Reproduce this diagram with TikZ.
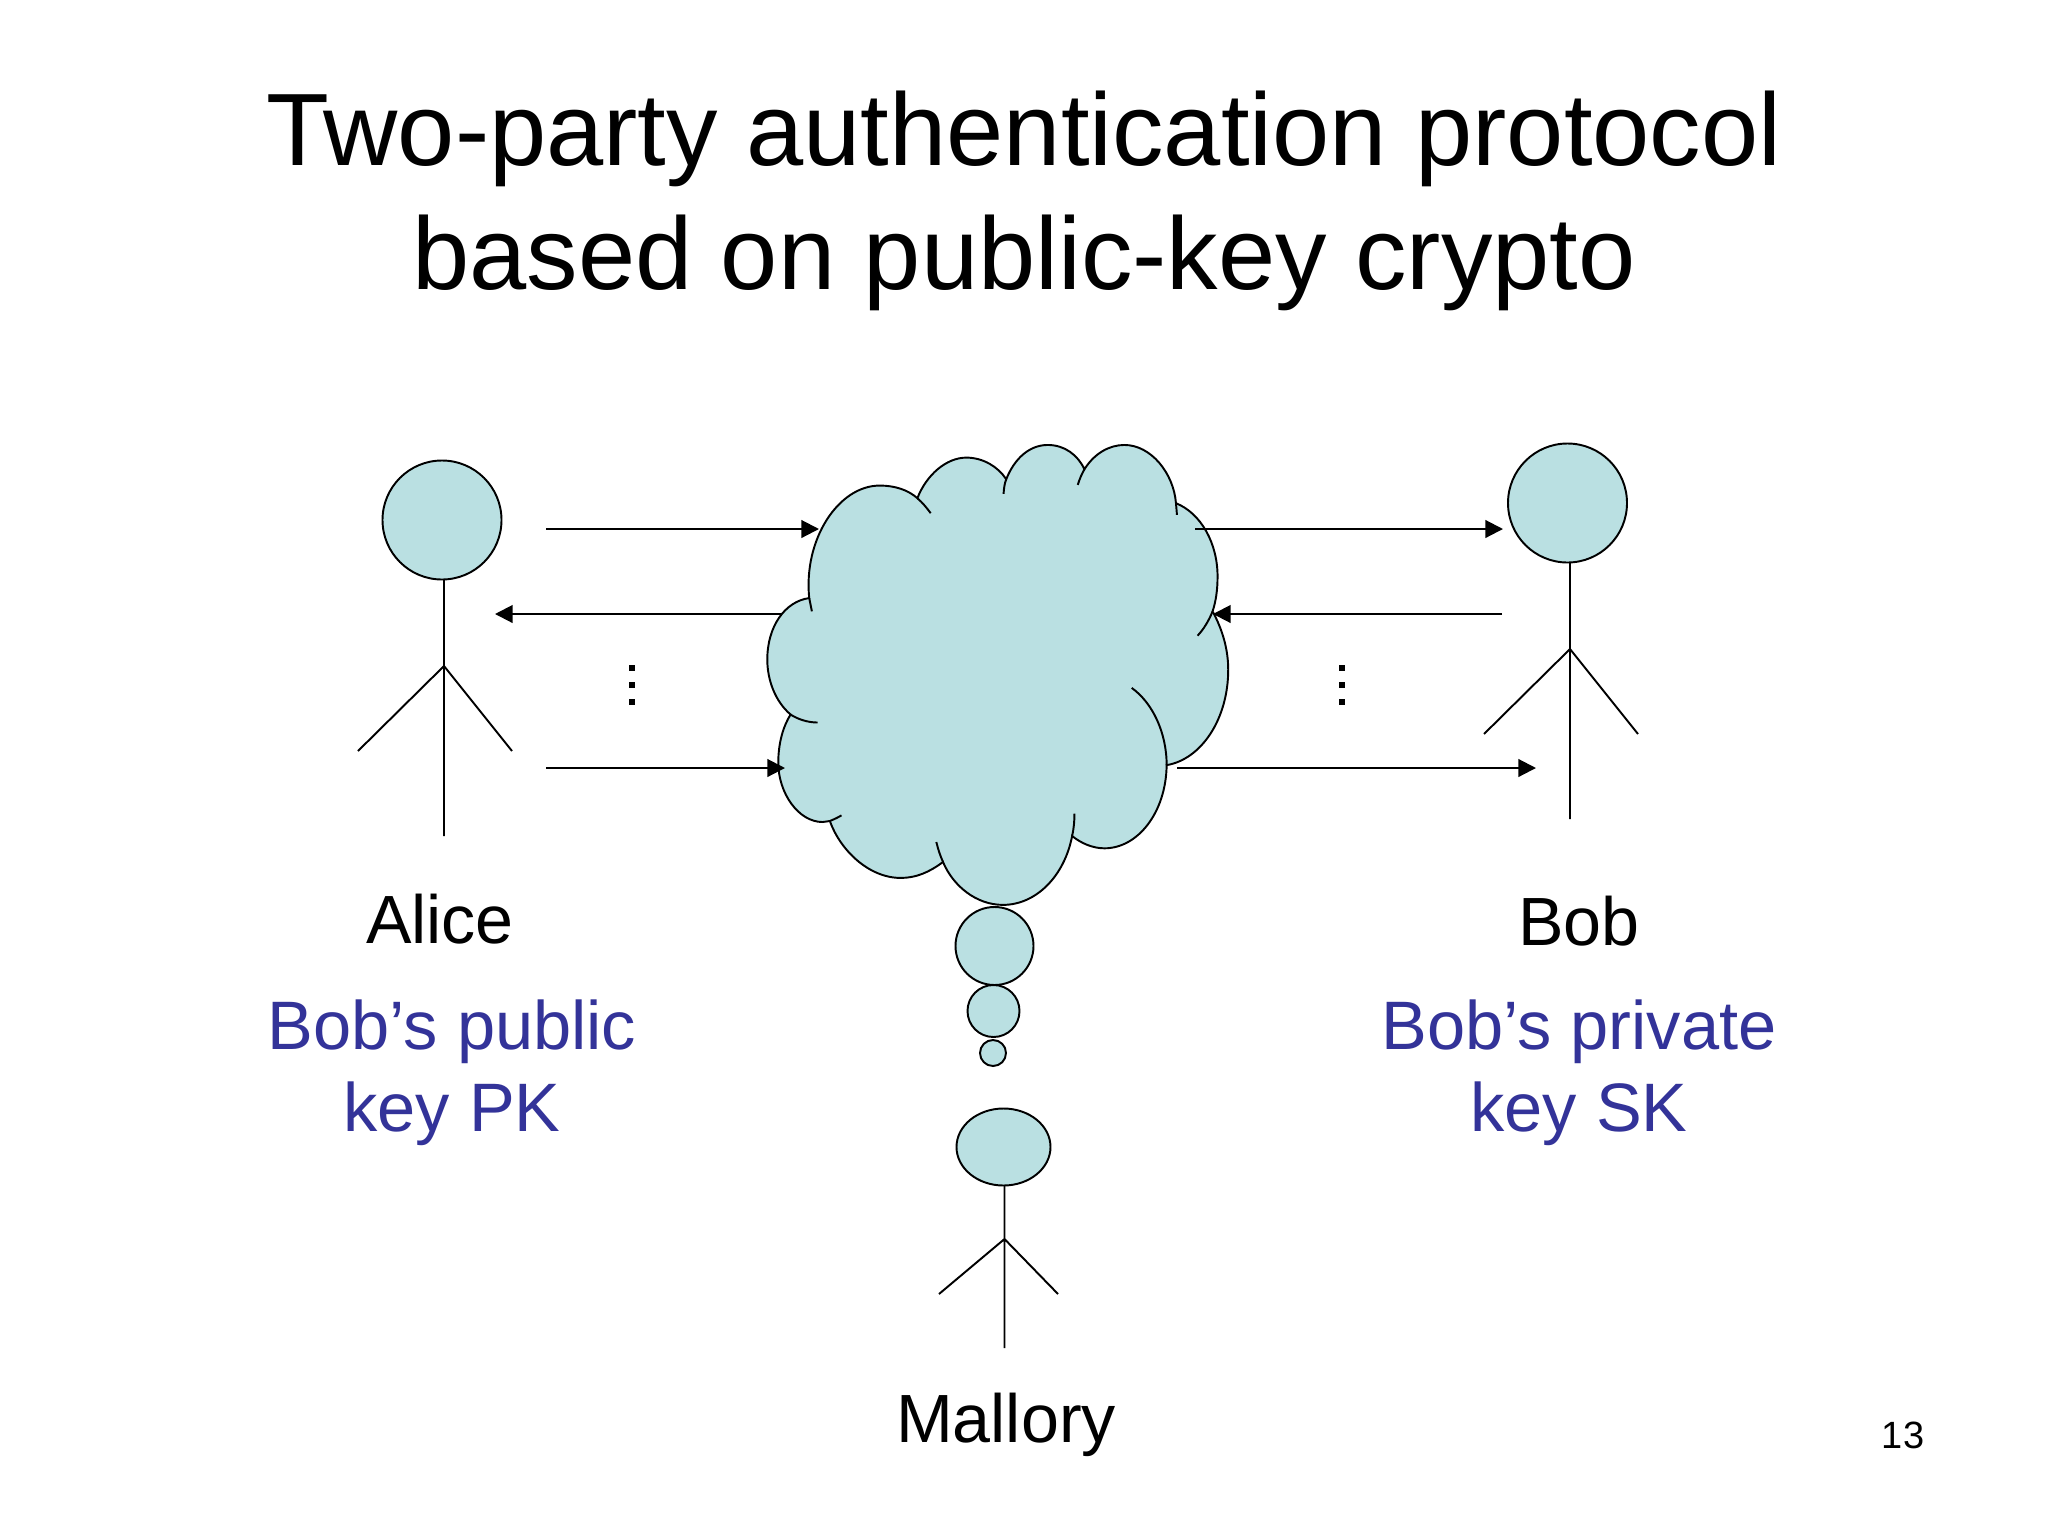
\documentclass[tikz,border=0pt]{standalone}
\usepackage{fontspec}
\setmainfont{Liberation Sans}
\usetikzlibrary{arrows.meta}
\definecolor{cloudfill}{HTML}{BAE0E2}
\definecolor{keyblue}{HTML}{333399}
\tikzset{
  px/.style={x=0.01cm,y=-0.01cm},
  ink/.style={draw=black,line width=0.55pt},
  person/.style={ink,fill=cloudfill},
  limb/.style={ink},
  msg/.style={draw=black,line width=0.6pt,-{Triangle[length=5pt,width=5pt]}},
  titletext/.style={align=center,inner sep=0pt,font=\fontsize{29.25}{35.1}\selectfont},
  nametext/.style={inner sep=0pt,anchor=base,font=\fontsize{19.4}{23}\selectfont},
  keytext/.style={align=center,inner sep=0pt,text=keyblue,font=\fontsize{19.5}{23.4}\selectfont},
  dotmark/.style={fill=black,inner sep=0pt,minimum size=1.5pt,rectangle},
}
\begin{document}
\begin{tikzpicture}[px]
\useasboundingbox[fill=white] (0,0) rectangle (2048,1536);
\node[titletext] (title) at (1024,201) {Two-party authentication protocol\\based on public-key crypto};

% free ends of the messages
\coordinate (la1) at (546,529); \coordinate (lb1) at (819,529);
\coordinate (la2) at (800,614); \coordinate (lb2) at (495,614);
\coordinate (la3) at (546,768); \coordinate (lb3) at (785,768);
\coordinate (ra1) at (1195,529); \coordinate (rb1) at (1503,529);
\coordinate (ra2) at (1502,614); \coordinate (rb2) at (1213,614);
\coordinate (ra3) at (1177,768); \coordinate (rb3) at (1536,768);

% message leaving the cloud towards Alice runs behind it
\draw[msg] (la2) -- (lb2);

% cloud
\begin{scope}[shift={(740,420)},x=0.003333cm,y=-0.003333cm]
\path[person] (208,535)
 .. controls (190,360) and (295,197) .. (420,197)
 .. controls (465,197) and (505,210) .. (533,235)
 .. controls (560,165) and (620,113) .. (680,113)
 .. controls (730,113) and (775,140) .. (800,178)
 .. controls (825,115) and (870,75) .. (925,75)
 .. controls (975,75) and (1015,105) .. (1035,148)
 .. controls (1065,100) and (1110,75) .. (1155,75)
 .. controls (1235,75) and (1303,160) .. (1310,250)
 .. controls (1385,280) and (1435,370) .. (1435,470)
 .. controls (1435,510) and (1430,545) .. (1420,575)
 .. controls (1450,630) and (1467,690) .. (1467,750)
 .. controls (1467,900) and (1385,1020) .. (1282,1037)
 .. controls (1280,1180) and (1195,1287) .. (1095,1287)
 .. controls (1060,1287) and (1025,1272) .. (998,1250)
 .. controls (975,1370) and (890,1457) .. (790,1457)
 .. controls (710,1457) and (640,1400) .. (610,1328)
 .. controls (570,1358) and (530,1376) .. (483,1376)
 .. controls (385,1376) and (300,1290) .. (270,1205)
 -- (248,1208)
 .. controls (175,1208) and (115,1120) .. (115,1030)
 .. controls (115,970) and (130,920) .. (152,885)
 .. controls (105,845) and (82,780) .. (82,720)
 .. controls (82,620) and (135,545) .. (208,535) -- cycle;
\draw[ink] (216,575) -- (208,535);
\draw[ink] (533,235) .. controls (548,248) and (562,265) .. (573,280);
\draw[ink] (792,222) .. controls (793,205) and (795,190) .. (800,178);
\draw[ink] (1015,195) .. controls (1020,178) and (1027,162) .. (1035,148);
\draw[ink] (1310,250) -- (1313,285);
\draw[ink] (1420,575) .. controls (1408,605) and (1392,630) .. (1375,648);
\draw[ink] (1177,805) .. controls (1240,850) and (1282,940) .. (1282,1037);
\draw[ink] (1005,1183) .. controls (1005,1205) and (1003,1228) .. (998,1250);
\draw[ink] (590,1268) .. controls (595,1290) and (602,1310) .. (610,1328);
\draw[ink] (305,1188) .. controls (293,1195) and (282,1200) .. (270,1205);
\draw[ink] (152,885) .. controls (175,900) and (205,909) .. (233,909);
\end{scope}

% other messages
\draw[msg] (la1) -- (lb1);
\draw[msg] (la3) -- (lb3);
\draw[msg] (ra1) -- (rb1);
\draw[msg] (ra2) -- (rb2);
\draw[msg] (ra3) -- (rb3);

\foreach \n/\y in {a/668,b/685,c/702}{
  \node[dotmark] (ld\n) at (632,\y) {};
  \node[dotmark] (rd\n) at (1342,\y) {};
}

% Alice
\draw[person] (442,520) circle (59.5);
\coordinate (aneck) at (444,580); \coordinate (ahip) at (444,666); \coordinate (afoot) at (444,836);
\coordinate (al) at (358,751); \coordinate (ar) at (512,751);
\draw[limb] (aneck) -- (afoot) (al) -- (ahip) -- (ar);
% Bob
\draw[person] (1567.5,503) circle (59.5);
\coordinate (bneck) at (1570,563); \coordinate (bhip) at (1570,649); \coordinate (bfoot) at (1570,819);
\coordinate (bl) at (1484,734); \coordinate (br) at (1638,734);
\draw[limb] (bneck) -- (bfoot) (bl) -- (bhip) -- (br);
% Mallory
\draw[person] (1003.5,1147) ellipse [x radius=47,y radius=38.5];
\coordinate (mneck) at (1004.5,1186); \coordinate (mhip) at (1004.5,1239); \coordinate (mfoot) at (1004.5,1348);
\coordinate (ml) at (939,1294); \coordinate (mr) at (1058,1294);
\draw[limb] (mneck) -- (mfoot) (ml) -- (mhip) -- (mr);
% thought bubbles
\draw[person] (994.5,946) circle (39);
\draw[person] (993.5,1011) circle (26);
\draw[person] (993,1053) circle (13);

\node[nametext] (alice) at (440,943) {Alice};
\node[nametext] (bob) at (1579,945) {Bob};
\node[nametext] (mallory) at (1006,1442) {Mallory};
\node[keytext] (kl) at (452,1073) {Bob’s public\\key PK};
\node[keytext] (kr) at (1579,1073) {Bob’s private\\key SK};
\node[inner sep=0pt,anchor=base,font=\fontsize{10.8}{13}\selectfont] (page) at (1903,1448) {13};
\end{tikzpicture}
\end{document}
